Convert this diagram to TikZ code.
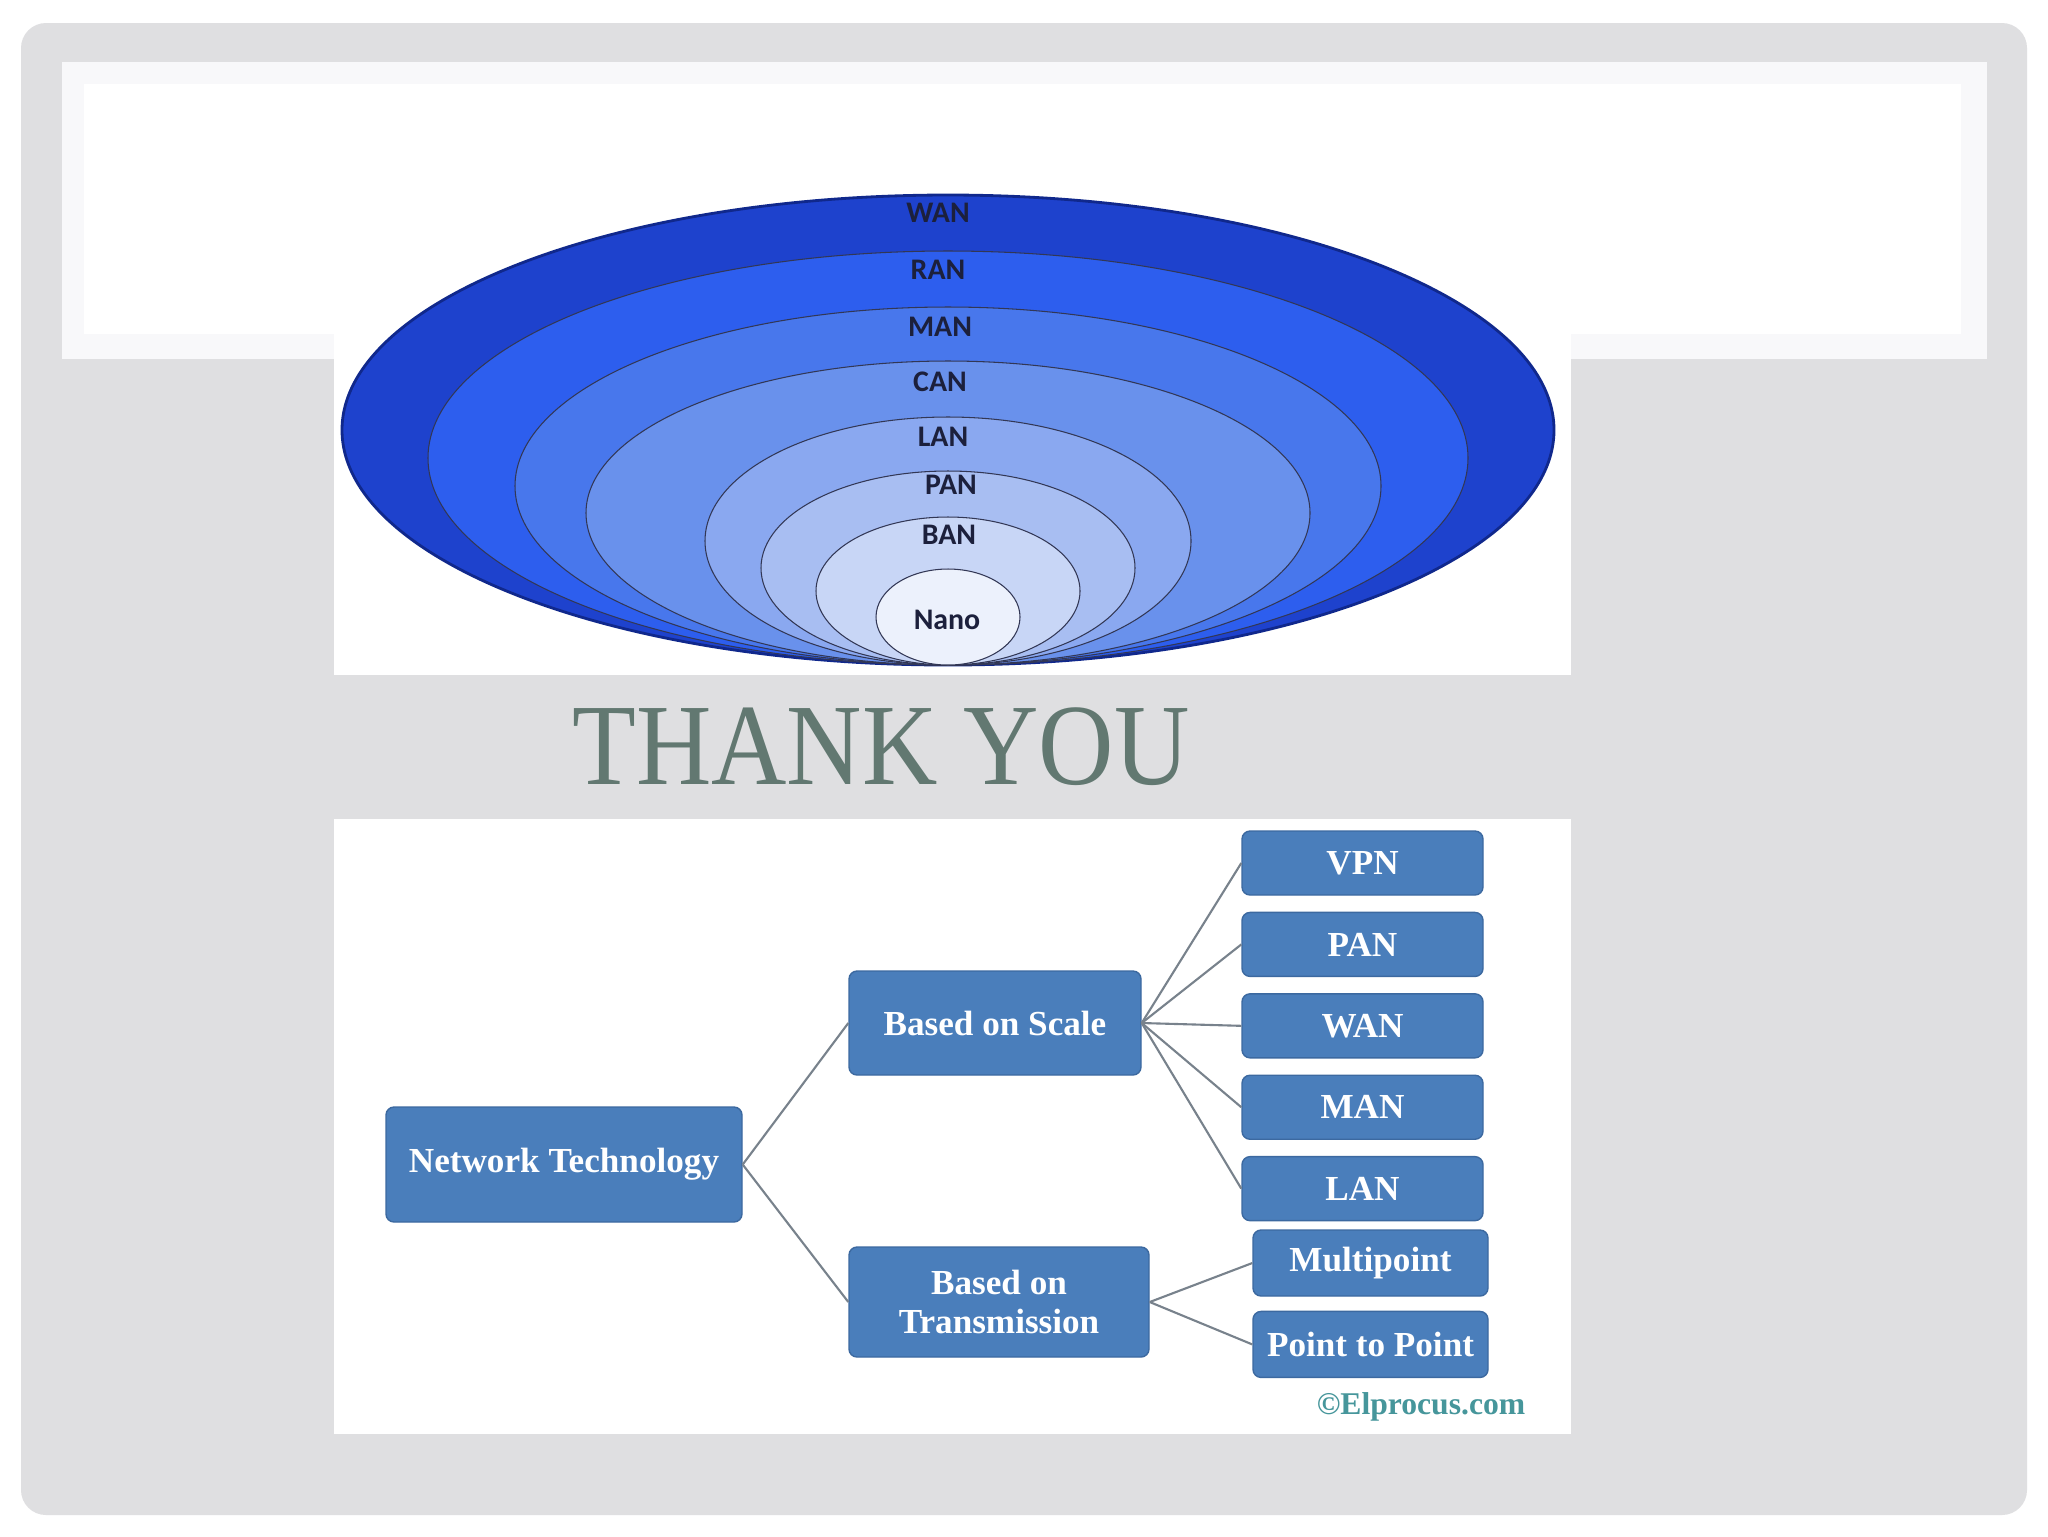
\documentclass[tikz,border=0pt]{standalone}
\usepackage{fontspec}
\setmainfont{Liberation Serif}
\newfontfamily\ringfont{Carlito}
\usetikzlibrary{positioning}
\definecolor{slidegray}{RGB}{223,223,225}
\definecolor{titlerim}{RGB}{248,248,250}
\definecolor{wanfill}{RGB}{30,66,205}
\definecolor{ranfill}{RGB}{45,94,238}
\definecolor{manfill}{RGB}{72,119,236}
\definecolor{canfill}{RGB}{105,145,236}
\definecolor{lanfill}{RGB}{138,168,240}
\definecolor{panfill}{RGB}{168,190,242}
\definecolor{banfill}{RGB}{200,214,246}
\definecolor{nanofill}{RGB}{236,241,252}
\definecolor{wanedge}{RGB}{16,40,140}
\definecolor{ringedge}{RGB}{50,55,85}
\definecolor{ringtext}{RGB}{28,32,60}
\definecolor{thankcol}{RGB}{98,120,113}
\definecolor{boxfill}{RGB}{74,126,187}
\definecolor{boxedge}{RGB}{60,105,160}
\definecolor{linkgray}{RGB}{120,130,140}
\definecolor{credcol}{RGB}{70,150,155}
\tikzset{
  ring/.style={draw=ringedge,line width=0.3pt},
  ringlab/.style={font=\ringfont\bfseries\fontsize{8.5}{10}\selectfont,text=ringtext},
  netbox/.style={draw=boxedge,fill=boxfill,rounded corners=0.8mm,text=white,
    font=\bfseries\fontsize{10}{11}\selectfont,align=center,inner sep=0pt},
  leafbox/.style={netbox,minimum width=24.1mm,minimum height=6.4mm},
  link/.style={draw=linkgray,line width=0.6pt},
  wmark/.style={text=credcol,font=\bfseries\fontsize{9}{10}\selectfont}
}

\begin{document}
\begin{tikzpicture}[x=0.1mm,y=-0.1mm,line join=round]
\useasboundingbox (0,0) rectangle (2048,1536);
% --- slide frame and empty title box
\fill[white] (0,0) rectangle (2048,1536);
\fill[slidegray,rounded corners=2.5mm] (21,23) rectangle (2027,1515);
\fill[titlerim] (62,62) rectangle (1987,359);
\fill[white] (84,84) rectangle (1961,334);
% --- nested networks, all touching at the bottom
\fill[white] (334,180) rectangle (1571,675);
\draw[draw=wanedge,line width=0.8pt,fill=wanfill] (948,430) ellipse [x radius=606, y radius=235];
\foreach \rx/\ry/\col in {520/207/ranfill,433/179/manfill,362/152/canfill,243/124/lanfill,
  187/97/panfill,132/74/banfill,72/48/nanofill}
  \draw[ring,fill=\col] (948,{665-\ry}) ellipse [x radius=\rx, y radius=\ry];
\foreach \nm/\lx/\ly in {WAN/938/213,RAN/938/270,MAN/940/327,CAN/940/382,
  LAN/943/437,PAN/951/485,BAN/949/535,Nano/947/620}
  \node[ringlab] (ring\nm) at (\lx,\ly) {\nm};
% --- caption
\node[text=thankcol,font=\fontsize{33}{36}\selectfont,anchor=base,inner sep=0pt] (thanks)
  at (881,784) {\scalebox{0.9}[1]{THANK YOU}};
% --- network technology tree
\fill[white] (334,819) rectangle (1571,1434);
\node[netbox,minimum width=35.6mm,minimum height=11.5mm] (nettech) at (564,1164.5) {Network Technology};
\node[netbox,minimum width=29.2mm,minimum height=10.4mm] (scale) at (995,1023) {Based on Scale};
\node[netbox,minimum width=30mm,minimum height=11mm] (trans) at (999,1302) {Based on\\Transmission};
\node[leafbox] (vpn) at (1362.5,863) {VPN};
\node[leafbox,below=1.6mm of vpn] (pan) {PAN};
\node[leafbox,below=1.6mm of pan] (wan) {WAN};
\node[leafbox,below=1.6mm of wan] (man) {MAN};
\node[leafbox,below=1.6mm of man] (lan) {LAN};
\node[leafbox,minimum width=23.5mm,minimum height=6.6mm] (multi) at (1370.5,1263) {Multipoint};
\node[leafbox,minimum width=23.5mm,minimum height=6.6mm,below=1.4mm of multi] (ptp) {Point to Point};
\draw[link] (nettech.east) -- (scale.west);
\draw[link] (nettech.east) -- (trans.west);
\foreach \leaf in {vpn,pan,wan,man,lan} \draw[link] (scale.east) -- (\leaf.west);
\foreach \leaf in {multi,ptp} \draw[link] (trans.east) -- (\leaf.west);
\node[wmark] (credit) at (1421,1407) {©Elprocus.com};
\end{tikzpicture}
\end{document}
